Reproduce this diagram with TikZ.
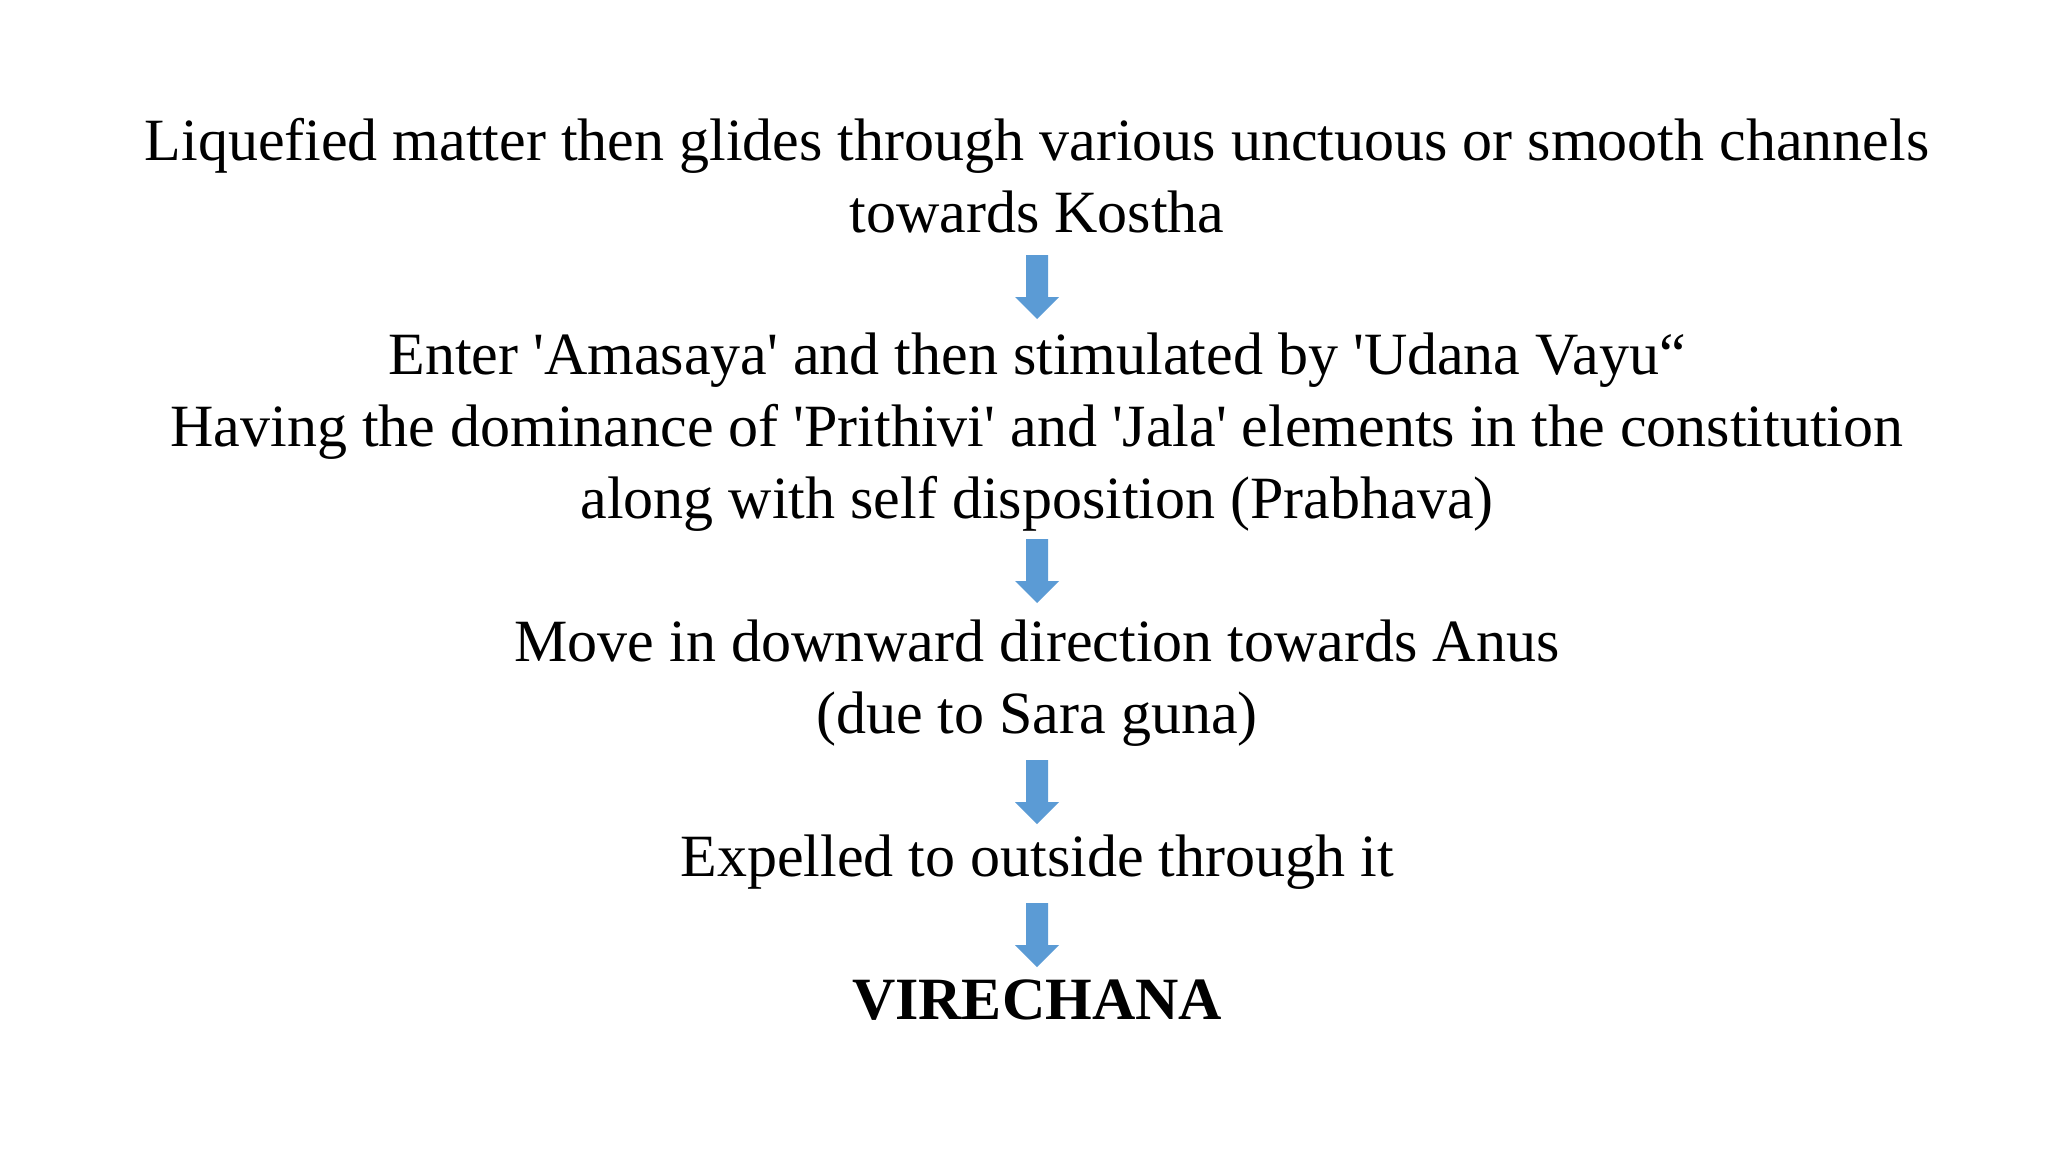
\documentclass[tikz,border=0pt]{standalone}
\usepackage{fontspec}
\setmainfont{Liberation Serif}[Ligatures=TeXOff]
\definecolor{arrowblue}{RGB}{91,155,213}
\tikzset{
  txt/.style={align=center, inner sep=0pt, font=\fontsize{60}{72}\selectfont},
  pics/downarrow/.style={code={
    \fill[arrowblue] (-11,0) -- (11,0) -- (11,42) -- (22,42) -- (0,64) -- (-22,42) -- (-11,42) -- cycle;
  }}
}
\begin{document}
\begin{tikzpicture}[x=1pt,y=-1pt]
\fill[white] (0,0) rectangle (2048,1152);
\useasboundingbox (0,0) rectangle (2048,1152);
\node[txt] (t1) at (1037,176) {Liquefied matter then glides through various unctuous or smooth channels\\towards Kostha};
\node[txt] (t2) at (1037,432) {Enter 'Amasaya' and then stimulated by 'Udana Vayu“\\Having the dominance of 'Prithivi' and 'Jala' elements in the constitution\\along with self disposition (Prabhava)};
\node[txt] (t3) at (1037,683) {Move in downward direction towards Anus\\(due to Sara guna)};
\node[txt] (t4) at (1037,862) {Expelled to outside through it};
\node[txt, font=\fontsize{60}{72}\selectfont\bfseries] (t5) at (1037,1000) {VIRECHANA};
\pic (a1) at (1037,255) {downarrow};
\pic (a2) at (1037,539) {downarrow};
\pic (a3) at (1037,760) {downarrow};
\pic (a4) at (1037,903) {downarrow};
\end{tikzpicture}
\end{document}
